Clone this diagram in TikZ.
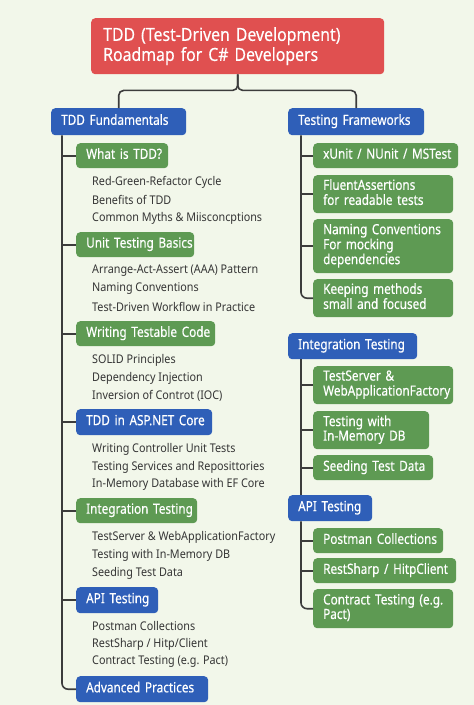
\documentclass[tikz,border=0pt]{standalone}
\usepackage{fontspec}
\setmainfont{Noto Sans}
\newfontfamily\bxf[FakeStretch=0.84,FakeBold=0.4]{Noto Sans}
\newfontfamily\ttf[FakeStretch=0.88,FakeBold=0.3]{Noto Sans}
\newfontfamily\itf[FakeStretch=0.9]{Noto Sans}
\usetikzlibrary{calc}
\definecolor{bg}{HTML}{F2F7EA}
\definecolor{tred}{HTML}{E05050}
\definecolor{tblue}{HTML}{2F5FB8}
\definecolor{tgreen}{HTML}{5E9A53}
\definecolor{tline}{HTML}{3C3C3C}
\definecolor{ttext}{HTML}{353535}
\hbadness=10000 \hfuzz=100pt
\tikzset{
  box/.style={rounded corners=4pt, text=white, inner xsep=10pt, inner ysep=0pt, align=left, anchor=north west, font=\bxf\fontsize{14}{14.5}\selectfont},
  bluebox/.style={box, fill=tblue},
  greenbox/.style={box, fill=tgreen},
  item/.style={anchor=west, inner sep=0pt, text=ttext, font=\itf\fontsize{12}{13}\selectfont},
  conn/.style={draw=tline, line width=1.6pt},
}
\newcommand{\bx}[7]{\node[#1, minimum width=#4pt, minimum height=#5pt, text width=\dimexpr #4pt-20pt\relax] (#6) at (#2,#3) {\begin{tabular}{@{}l@{}}#7\end{tabular}};}
\begin{document}
\begin{tikzpicture}[x=1pt,y=-1pt]
\fill[bg] (0,0) rectangle (474,705);
\useasboundingbox (0,0) rectangle (474,705);
% title
\node[box, fill=tred, inner xsep=12pt, minimum width=293pt, minimum height=56pt, text width=269pt, font=\ttf\fontsize{18}{20}\selectfont] (title) at (91,18) {TDD (Test-Driven Development)\\Roadmap for C\# Developers};
% left column
\bx{bluebox}{51}{108}{135}{27}{fund}{TDD Fundamentals}
\bx{greenbox}{76}{143}{92}{25}{what}{What is TDD?}
\node[item] (w1) at (92,182) {Red-Green-Refactor Cycle};
\node[item] (w2) at (92,200) {Benefits of TDD};
\node[item] (w3) at (92,218) {Common Myths \& Miisconcptions};
\bx{greenbox}{76}{232}{118}{25}{utb}{Unit Testing Basics}
\node[item] (u1) at (92,271) {Arrange-Act-Assert (AAA) Pattern};
\node[item] (u2) at (92,289) {Naming Conventions};
\node[item] (u3) at (92,307) {Test-Driven Workflow in Practice};
\bx{greenbox}{76}{321}{139}{25}{wtc}{Writing Testable Code}
\node[item] (c1) at (92,360) {SOLID Principles};
\node[item] (c2) at (92,378) {Dependency Injection};
\node[item] (c3) at (92,396) {Inversion of Controt (IOC)};
\bx{bluebox}{76}{409}{136}{26}{asp}{TDD in ASP.NET Core}
\node[item] (a1) at (92,449) {Writing Controller Unit Tests};
\node[item] (a2) at (92,467) {Testing Services and Reposittories};
\node[item] (a3) at (92,484) {In-Memory Database with EF Core};
\bx{greenbox}{76}{498}{121}{25}{integ}{Integration Testing}
\node[item] (g1) at (92,537) {TestServer \& WebApplicationFactory};
\node[item] (g2) at (92,555) {Testing with In-Memory DB};
\node[item] (g3) at (92,573) {Seeding Test Data};
\bx{bluebox}{76}{587}{82}{26}{api}{API Testing}
\node[item] (p1) at (92,626) {Postman Collections};
\node[item] (p2) at (92,644) {RestSharp / Hitp/Client};
\node[item] (p3) at (92,662) {Contract Testing (e.g. Pact)};
\bx{bluebox}{76}{676}{132}{26}{adv}{Advanced Practices}
% right column
\bx{bluebox}{288}{108}{136}{27}{frame}{Testing Frameworks}
\bx{greenbox}{313}{143}{145}{25}{xunit}{xUnit / NUnit / MSTest}
\bx{greenbox}{313}{175}{140}{38}{fluent}{FluentAssertions\\for readable tests}
\bx{greenbox}{313}{219}{140}{54}{naming}{Naming Conventions\\For mocking\\dependencies}
\bx{greenbox}{313}{279}{140}{38}{keep}{Keeping methods\\small and focused}
\bx{bluebox}{288}{333}{129}{26}{rinteg}{Integration Testing}
\bx{greenbox}{313}{366}{140}{38}{tserver}{TestServer \&\\WebApplicationFactory}
\bx{greenbox}{313}{411}{116}{38}{inmem}{Testing with\\In-Memory DB}
\bx{greenbox}{313}{455}{120}{25}{seed}{Seeding Test Data}
\bx{bluebox}{288}{495}{84}{26}{rapi}{API Testing}
\bx{greenbox}{313}{528}{130}{25}{postman}{Postman Collections}
\bx{greenbox}{313}{558}{143}{25}{rest}{RestSharp / HitpClient}
\bx{greenbox}{313}{589}{140}{39}{contract}{Contract Testing (e.g.\\Pact)}
% connectors
\draw[conn, rounded corners=5pt] (title.south) -- ++(0,16) -| (fund.north);
\draw[conn, rounded corners=5pt] (title.south) -- ++(0,16) -| (frame.north);
\coordinate (lt) at ([xshift=11pt]fund.south west);
\draw[conn, rounded corners=6pt] (lt) |- (adv.west);
\foreach \n in {what,utb,wtc,asp,integ,api} \draw[conn] (lt |- \n.west) -- (\n.west);
\coordinate (rt) at ([xshift=13pt]frame.south west);
\draw[conn, rounded corners=6pt] (rt) |- (keep.west);
\foreach \n in {xunit,fluent,naming} \draw[conn] (rt |- \n.west) -- (\n.west);
\coordinate (rt2) at ([xshift=13pt]rinteg.south west);
\draw[conn] (rt2) -- (rt2 |- rapi.north);
\foreach \n in {tserver,inmem,seed} \draw[conn] (rt2 |- \n.west) -- (\n.west);
\coordinate (rt3) at ([xshift=13pt]rapi.south west);
\draw[conn, rounded corners=6pt] (rt3) |- (contract.west);
\foreach \n in {postman,rest} \draw[conn] (rt3 |- \n.west) -- (\n.west);
\end{tikzpicture}
\end{document}
